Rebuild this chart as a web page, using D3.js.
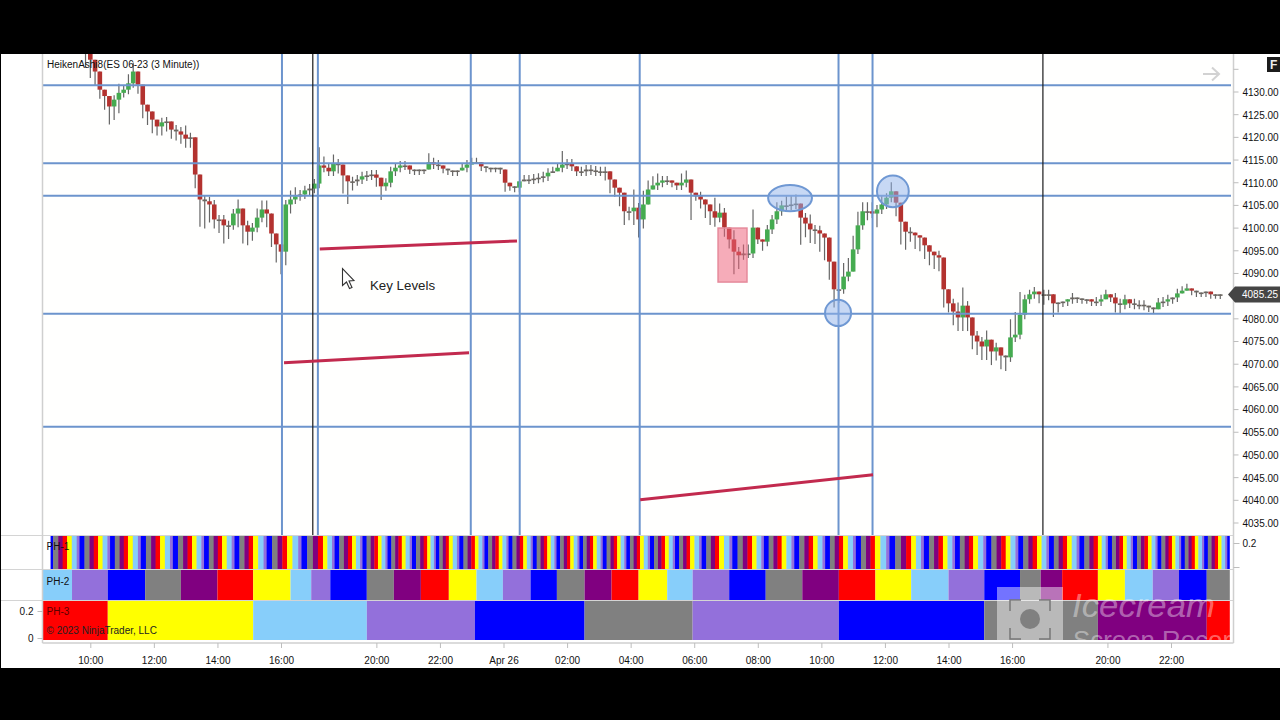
<!DOCTYPE html>
<html><head><meta charset="utf-8">
<script src="https://cdn.jsdelivr.net/npm/d3@7/dist/d3.min.js"></script>
<style>html,body{margin:0;padding:0;background:#000}svg{display:block}text{font-family:"Liberation Sans",Arial,sans-serif}</style>
</head><body><svg id="c" width="1280" height="720"></svg>
<script>
// 3-minute bar numbers: 0 = 10:00; candles are sampled every third bar starting at bar -15
const firstBar = -15, barStep = 3;
const closes = [
4140.4,4140.4,4140,4139.7,4139.3,4137,4134.4,4130.4,4129,4126.7,
4128.2,4129.7,4130.4,4131.8,4134.4,4131.5,4127.1,4125.6,4123.8,4122.3,
4123.2,4123.4,4121.6,4121.2,4120.5,4119.6,4119.9,4111.7,4106.2,4105.8,
4105.1,4101.8,4101.8,4100.5,4100.5,4103.1,4104.2,4100.5,4099.1,4100,
4102.2,4104,4103.1,4098.7,4096.3,4094.7,4105.1,4106.2,4106.9,4107.3,
4108.2,4108.6,4109.7,4113.7,4113.2,4112.4,4114.1,4113.9,4111.5,4110.2,
4110.2,4110.6,4111.3,4111.5,4111.7,4111,4109.1,4109.9,4112.4,4113.2,
4113.7,4113.7,4112.8,4112.6,4112.8,4112.8,4114.4,4113.9,4113.7,4113,
4112.6,4112.4,4112.6,4113.2,4113.9,4114.4,4114.4,4113.5,4113.2,4113.2,
4113.2,4112.8,4109.9,4109.1,4108.8,4110.2,4110.6,4110.6,4110.8,4111,
4111.3,4112.1,4112.4,4113.2,4113.9,4114.1,4113.5,4112.4,4112.4,4112.8,
4112.6,4112.4,4112.4,4112.4,4110.6,4108.8,4107.7,4103.6,4103.6,4104.4,
4101.8,4105.1,4108.4,4109.3,4109.9,4110.4,4110.4,4109.9,4109.3,4109.9,
4110.6,4107.7,4106.9,4106.2,4105.1,4103.6,4102.2,4103.3,4100,4097.4,
4094.7,4093.9,4094.3,4094.3,4100,4097.4,4096.9,4099.6,4101.8,4103.6,
4104.9,4104.9,4105.1,4105.3,4102.2,4100.9,4099.6,4099.4,4098.7,4097.8,
4092.5,4086.4,4086.4,4089.2,4090.3,4095.2,4100.5,4103.6,4103.6,4103.1,
4104,4105.1,4106.6,4108,4105.5,4101.3,4099.1,4098.9,4098.3,4097.8,
4096.1,4094.7,4093.9,4093.4,4086.4,4083.3,4081.5,4080.2,4082.8,4080.2,
4076.2,4074.9,4073.8,4075.3,4072.7,4073.6,4071.8,4071.4,4075.8,4076.4,
4080.8,4084.2,4085.3,4085.9,4085.3,4085,4085.3,4083.3,4083.5,4083.7,
4084.2,4084.6,4084.4,4084.2,4084.2,4083.7,4083.7,4084.2,4085.3,4084.6,
4083.3,4083,4084.2,4083.3,4083,4083,4082.8,4082.4,4082,4083.5,
4083.7,4084.2,4084.6,4085.5,4086.1,4086.6,4086.1,4085.7,4085.7,4085.9,
4085.3,4085.3,4085.25];
const wickUp = [
1,1,1,1,1,1,0,0,0,0, 1,2,1,2,2,0,0,0,0,0, 1,1,0,1,1,2,1,0,0,1, 1,1,1,1,1,1,2,0,1,1,
2,2,2,0,0,0,1,2,2,1, 1,1,1,4,2,1,2,1,0,0, 1,1,1,1,1,1,0,1,1,1, 1,1,0,0,0,0,2,1,1,0,
0,0,0,1,1,1,1,0,0,0, 0,0,0,0,0,0,1,1,1,1, 1,1,1,1,3,1,1,0,1,1, 1,1,1,1,0,0,0,0,1,4,
1,3,2,2,2,1,1,0,0,2, 2,0,0,1,0,0,3,2,1,0, 2,1,2,2,4,0,0,1,1,2, 1,2,2,2,0,1,2,1,1,0,
0,0,0,3,3,3,3,2,2,2, 1,2,1,2,0,0,0,1,0,0, 0,0,0,1,0,0,1,2,4,1, 0,1,1,2,0,1,0,0,4,5,
5,1,1,1,0,1,1,0,0,0, 0,1,0,0,0,0,1,1,1,0, 1,1,1,0,1,1,1,0,0,1, 1,1,0,1,1,1,0,0,0,0, 0,0,0];
const wickDown = [
1,1,1,1,4,4,3,2,3,4, 3,3,1,1,1,2,3,3,3,2, 2,2,2,2,2,2,2,3,6,6, 4,2,3,4,3,1,3,4,3,2,
1,1,3,3,4,5,3,2,1,1, 1,1,1,1,1,1,1,2,4,5, 2,1,1,1,1,2,3,1,1,1, 1,1,1,1,1,1,0,1,1,1,
1,1,1,0,1,0,0,1,1,1, 1,1,2,1,1,1,0,1,1,1, 1,1,0,0,1,1,1,1,1,1, 1,1,1,2,3,2,3,3,2,3,
4,2,0,0,1,1,1,1,1,1, 1,6,1,2,3,3,2,1,2,2, 5,3,1,1,1,1,2,1,1,1, 1,1,1,1,6,3,3,3,4,5,
4,4,3,1,1,0,1,1,2,1, 3,1,1,1,3,5,4,2,3,3, 3,3,3,3,4,2,3,3,3,3, 3,3,3,3,3,2,3,3,1,1,
1,1,1,1,2,2,1,3,2,1, 1,1,1,1,1,1,1,1,0,1, 2,2,1,1,1,1,1,1,1,0, 1,1,1,1,0,0,1,1,1,1, 1,1,1];

const priceTicks = [4035,4040,4045,4050,4055,4060,4065,4070,4075,4080,4085,4090,4095,4100,4105,4110,4115,4120,4125,4130,4135];
const timeTickBars = [0,40,80,120,180,220,260,300,340,380,420,460,500,540,580,640,680];
const timeTickLabels = ["10:00","12:00","14:00","16:00","20:00","22:00","Apr 26","02:00","04:00","06:00","08:00","10:00","12:00","14:00","16:00","20:00","22:00"];

const levelPrices = [4131.4,4114.2,4107,4081,4056.1];
const blueVerticalBars = [120.6,143.2,239.4,270.2,345.7,470.8,492.2];
const blackVerticalBars = [140,599.4];
const redTrendBars = [[144.4,268.5],[121.9,238.3],[346,492.5]];
const redTrendPrices = [[4095.3,4097.05],[4070.2,4072.4],[4040,4045.5]];
const pinkBars = [395,413.2], pinkPrices = [4099.9,4088];
const bubbleBars = [440.3,470.5,505], bubblePrices = [4106.5,4081.2,4108];
const bubbleBarRadii = [13.8,8.2,10], bubblePriceRadii = [2.9,2.9,3.5];
const lastPrice = 4085.25;

const phaseColors = {red:"#ff0000",yellow:"#ffff00",sky:"#87cefa",mid:"#9370db",blue:"#0000ff",gray:"#808080",purple:"#800080"};
const ph3Edges = [-30,11,102.5,174,242,311,379,471,562.5,634,702.5,717];
const ph3Names = ["red","yellow","sky","mid","blue","gray","mid","blue","gray","purple","red"];
const ph2Edges = [-30,-11.5,11,34.5,57,80,102.5,126,139,151,174,191,208,225.6,243,259.6,277,293.6,311,328,345,363,379,402,425,448,471,494,516.5,540,562.5,585,598,611.5,634,651,668.5,685,702.5,717];
const ph2Names = ["sky","mid","blue","gray","purple","red","yellow","sky","mid","blue","gray","purple","red","yellow","sky","mid","blue","gray","purple","red","yellow","sky","mid","blue","gray","purple","red","yellow","sky","mid","blue","gray","purple","red","yellow","sky","mid","blue","gray"];
// bars at which each PH-1 colour cycle begins with its yellow stripe
const ph1CycleStarts = [-34.6,-14.6,4.9,23.7,43.9,64,82.9,102.4,123.8,146.4,164.7,181,196,212,225.6,242,257,272.4,287.5,302,316.4,331.5,345.9,361.6,377.4,395.6,416.4,435,454.8,473.7,493.7,516.5,536.5,555.5,576,595.7,614.6,634,649.8,665.5,680.6,695,709.6,724];
const ph1Names = ["yellow","sky","mid","blue","gray","purple","red"];
const ph1Shares = [0.15,0.16,0.09,0.16,0.16,0.14,0.14];

const svg = d3.select("#c");
const x = d3.scaleLinear().domain([0,680]).range([90.3,1171]);
const y = d3.scaleLinear().domain([4035,4130]).range([522.5,91.5]);
const L = 42.5, R = 1233.5, T = 54, B = 535, bandR = x(717);

svg.append("rect").attr("width",1280).attr("height",720).attr("fill","#000");
svg.append("rect").attr("x",1).attr("y",T).attr("width",1279).attr("height",614).attr("fill","#fff");
svg.append("rect").attr("x",L).attr("y",T).attr("width",R-L-2).attr("height",B-T).attr("fill","#fffffe");

const defs = svg.append("defs");
defs.append("clipPath").attr("id","plot").append("rect").attr("x",L).attr("y",T).attr("width",R-L).attr("height",B-T);
defs.append("clipPath").attr("id","ph1").append("rect").attr("x",x(-25)).attr("y",536).attr("width",bandR-x(-25)).attr("height",33);
defs.append("clipPath").attr("id","wm").append("rect").attr("x",990).attr("y",580).attr("width",bandR-990).attr("height",62);

// candles
const opens = closes.map((c,i)=> i? closes[i-1] : c);
const candles = svg.append("g").attr("clip-path","url(#plot)");
const idx = d3.range(closes.length);
const barOf = i => firstBar + barStep*i;
candles.selectAll("line.w").data(idx).join("line").attr("class","w")
  .attr("x1",i=>x(barOf(i))).attr("x2",i=>x(barOf(i)))
  .attr("y1",i=>y(Math.max(opens[i],closes[i])+wickUp[i]))
  .attr("y2",i=>y(Math.min(opens[i],closes[i])-wickDown[i]))
  .attr("stroke","#666").attr("stroke-width",1.2);
candles.selectAll("rect.b").data(idx).join("rect").attr("class","b")
  .attr("x",i=>x(barOf(i))-2.3).attr("width",4.6)
  .attr("y",i=>y(Math.max(opens[i],closes[i])))
  .attr("height",i=>Math.max(1.6,Math.abs(y(opens[i])-y(closes[i]))))
  .attr("fill",i=>Math.abs(closes[i]-opens[i])<0.45?"#6b6660":closes[i]>=opens[i]?"#45ab50":"#b3322f");

// overlays
const over = svg.append("g").attr("clip-path","url(#plot)");
over.append("rect").attr("x",x(pinkBars[0])).attr("width",x(pinkBars[1])-x(pinkBars[0]))
  .attr("y",y(pinkPrices[0])).attr("height",y(pinkPrices[1])-y(pinkPrices[0]))
  .attr("fill","#ee5f78").attr("fill-opacity",.52).attr("stroke","#e58a9b").attr("stroke-width",1.5);
over.selectAll("line.h").data(levelPrices).join("line").attr("class","h")
  .attr("x1",L).attr("x2",1231).attr("y1",d=>y(d)).attr("y2",d=>y(d)).attr("stroke","#6c94cd").attr("stroke-width",2);
over.selectAll("line.v").data(blueVerticalBars).join("line").attr("class","v")
  .attr("x1",d=>x(d)).attr("x2",d=>x(d)).attr("y1",T).attr("y2",B).attr("stroke","#6c94cd").attr("stroke-width",2);
over.selectAll("line.k").data(blackVerticalBars).join("line").attr("class","k")
  .attr("x1",d=>x(d)).attr("x2",d=>x(d)).attr("y1",T).attr("y2",B).attr("stroke","#1a1a1a").attr("stroke-width",1.2);
over.selectAll("line.r").data(redTrendBars).join("line").attr("class","r")
  .attr("x1",d=>x(d[0])).attr("x2",d=>x(d[1]))
  .attr("y1",(d,i)=>y(redTrendPrices[i][0])).attr("y2",(d,i)=>y(redTrendPrices[i][1]))
  .attr("stroke","#c22a4e").attr("stroke-width",3);
over.selectAll("ellipse").data(bubbleBars).join("ellipse")
  .attr("cx",d=>x(d)).attr("cy",(d,i)=>y(bubblePrices[i]))
  .attr("rx",(d,i)=>x(bubbleBarRadii[i])-x(0)).attr("ry",(d,i)=>y(4035)-y(4035+bubblePriceRadii[i]))
  .attr("fill","#8fb2ea").attr("fill-opacity",.5).attr("stroke","#6f98d3").attr("stroke-width",2);

// colour bands
function band(edges,names,y0,h){
  svg.append("g").selectAll("rect").data(names).join("rect")
    .attr("x",(d,i)=>x(edges[i])).attr("width",(d,i)=>x(edges[i+1])-x(edges[i]))
    .attr("y",y0).attr("height",h).attr("fill",d=>phaseColors[d]);
}
band(ph2Edges,ph2Names,570,30);
band(ph3Edges,ph3Names,601,39);
const ph1 = svg.append("g").attr("clip-path","url(#ph1)");
ph1CycleStarts.slice(0,-1).forEach((s,k)=>{
  const len = ph1CycleStarts[k+1]-s; let a = s;
  ph1Names.forEach((n,j)=>{
    const w = len*ph1Shares[j];
    ph1.append("rect").attr("x",x(a)).attr("width",x(a+w)-x(a)+.4).attr("y",536).attr("height",33).attr("fill",phaseColors[n]);
    a += w;
  });
});

// frame lines
[[1,1233,535.5],[1,1233,569.5],[1,1233,600.5]].forEach(d=>
  svg.append("line").attr("x1",d[0]).attr("x2",d[1]).attr("y1",d[2]).attr("y2",d[2]).attr("stroke","#d4d4d4"));
[[L,L,T,643],[R,R,T,643]].forEach(d=>
  svg.append("line").attr("x1",d[0]).attr("x2",d[1]).attr("y1",d[2]).attr("y2",d[3]).attr("stroke","#cfcfcf").attr("stroke-width",1.5));
svg.append("line").attr("x1",L).attr("x2",R).attr("y1",643).attr("y2",643).attr("stroke","#cfcfcf").attr("stroke-width",1.5);

// axes
const yAxis = d3.axisRight(y).tickValues(priceTicks).tickSize(5).tickPadding(4)
  .tickFormat(d=>d===4135?"":d3.format(".2f")(d));
const ga = svg.append("g").attr("transform",`translate(${R},0)`).call(yAxis);
ga.select(".domain").remove();
ga.selectAll("line").attr("stroke","#bdbdbd");
ga.selectAll("text").attr("font-size",10).attr("fill","#111").attr("font-family","Liberation Sans").attr("y",0.7);
const xAxis = d3.axisBottom(x).tickValues(timeTickBars).tickSize(5).tickPadding(9)
  .tickFormat((d,i)=>timeTickLabels[i]);
const gx = svg.append("g").attr("transform","translate(0,643)").call(xAxis);
gx.select(".domain").remove();
gx.selectAll("line").attr("stroke","#bdbdbd");
gx.selectAll("text").attr("font-size",10).attr("fill","#111").attr("font-family","Liberation Sans");

// oscillator scales
const oscLeft = d3.scaleLinear().domain([0,0.2]).range([638,611]);
const gl = svg.append("g").attr("transform",`translate(${L},0)`).call(d3.axisLeft(oscLeft).tickValues([0,0.2]).tickSize(5).tickPadding(4).tickFormat(d=>d===0?"0":"0.2"));
gl.select(".domain").remove(); gl.selectAll("line").attr("stroke","#bdbdbd");
gl.selectAll("text").attr("font-size",10).attr("fill","#111").attr("font-family","Liberation Sans");
const oscRight = d3.scaleLinear().domain([0,0.2]).range([567,543]);
const gr = svg.append("g").attr("transform",`translate(${R},0)`).call(d3.axisRight(oscRight).tickValues([0,0.2]).tickSize(6).tickPadding(3).tickFormat(d=>d===0?"":"0.2"));
gr.select(".domain").remove(); gr.selectAll("line").attr("stroke","#bdbdbd");
gr.selectAll("text").attr("font-size",10).attr("fill","#111").attr("font-family","Liberation Sans");

// texts
function t(s,px,py,size,fill,extra){const e=svg.append("text").attr("x",px).attr("y",py).attr("font-size",size).attr("fill",fill||"#111").text(s);if(extra)extra(e);return e;}
t("HeikenAshi8(ES 06-23 (3 Minute))",47,68,10);
t("Key Levels",370,290,13.3,"#222");
t("PH-1",46.5,550,10);
t("PH-2",46.5,584.5,10);
t("PH-3",46.5,615,10,"#5a0000");
t("© 2023 NinjaTrader, LLC",46.5,634,10,"#222");

// price marker
const py = y(lastPrice);
svg.append("path").attr("d",`M1228,${py} L1235,${py-8} H1280 V${py+8} H1235 Z`).attr("fill","#454545");
t("4085.25",1242,py+3.8,10,"#fff");
svg.append("rect").attr("x",1267).attr("y",57).attr("width",13).attr("height",15).attr("fill","#1c1c1c");
t("F",1270,69,12,"#eee",e=>e.attr("font-weight","bold"));

// scroll arrow
svg.append("path").attr("d","M1203,74 H1219 M1212,67.5 L1219,74 L1212,80.5").attr("fill","none").attr("stroke","#d2d2d2").attr("stroke-width",2);

// mouse cursor
svg.append("path").attr("d","M342.5,268.5 V285.5 L346.5,282 L349.5,288.5 L352,287.5 L349,281 L354,280.5 Z").attr("fill","#fff").attr("stroke","#333").attr("stroke-width",1.1);

// recorder watermark
const wm = svg.append("g").attr("clip-path","url(#wm)");
wm.append("rect").attr("x",997).attr("y",587).attr("width",66).attr("height",53).attr("fill","#fff").attr("fill-opacity",.45);
wm.append("circle").attr("cx",1030).attr("cy",619).attr("r",10).attr("fill","#808080");
wm.append("path").attr("d","M1010,611 V600 H1021 M1039,600 H1050 V611 M1010,628 V639 H1021 M1039,639 H1050 V628").attr("fill","none").attr("stroke","#777").attr("stroke-width",1.5);
wm.append("text").attr("x",1072).attr("y",617).attr("font-size",33).attr("font-style","italic").attr("font-family","DejaVu Serif").attr("textLength",143).attr("lengthAdjust","spacingAndGlyphs").attr("fill","#fff").attr("fill-opacity",.4).text("Icecream");
wm.append("text").attr("x",1073).attr("y",649).attr("font-size",25).attr("textLength",158).attr("lengthAdjust","spacingAndGlyphs").attr("fill","#fff").attr("fill-opacity",.4).text("Screen Recor");
</script></body></html>
